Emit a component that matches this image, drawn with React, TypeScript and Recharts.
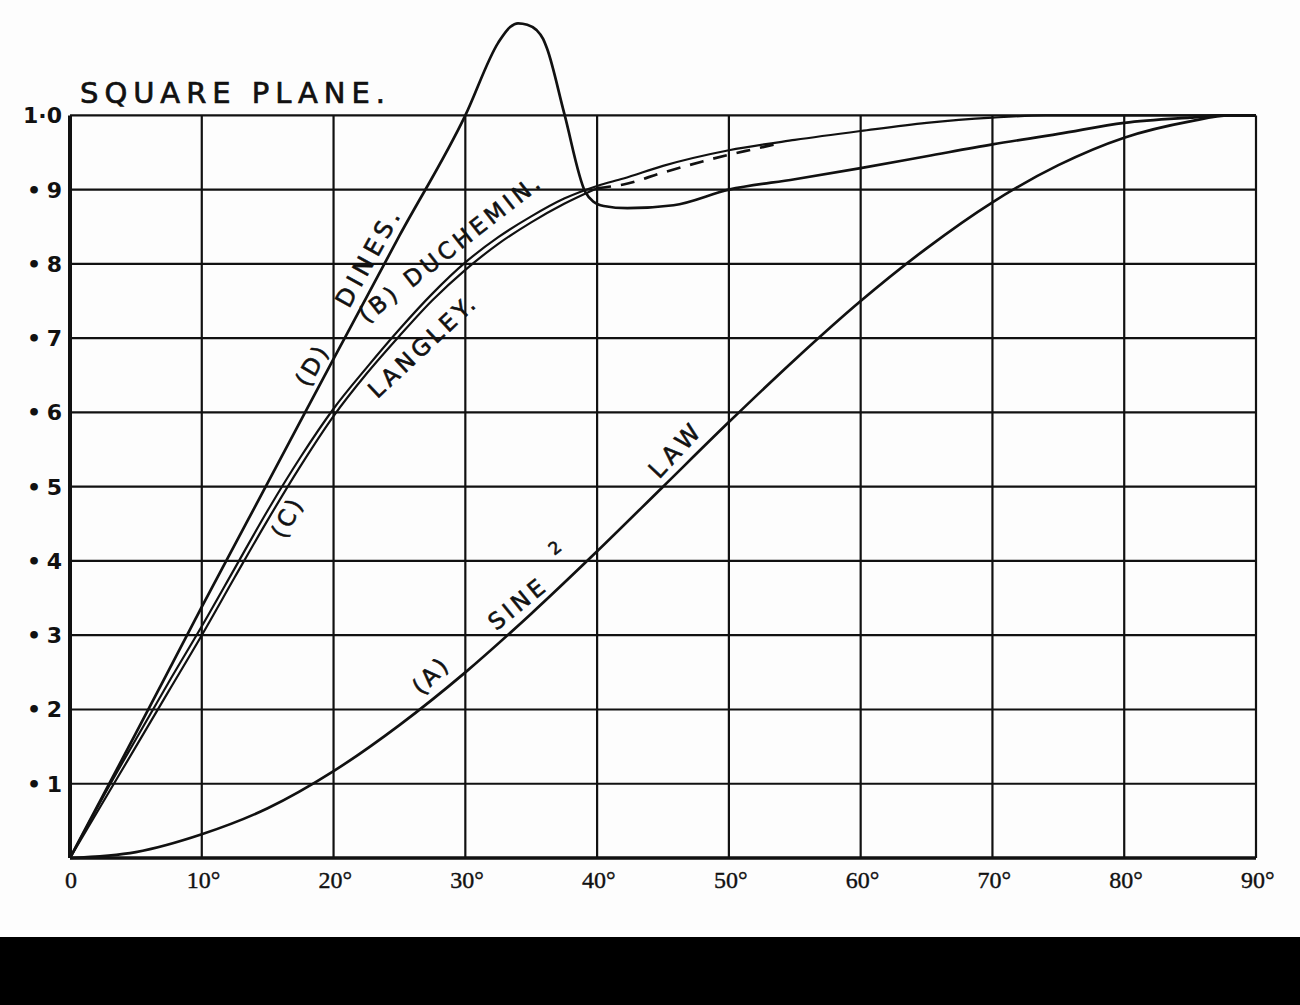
import React from "react";
import {
  LineChart,
  Line,
  XAxis,
  YAxis,
  ReferenceLine,
  ReferenceDot,
} from "recharts";

// angle of incidence (degrees) and normal pressure ratio
const DEGREE_TICKS = [0, 10, 20, 30, 40, 50, 60, 70, 80, 90];
const PRESSURE_TICKS = [0.1, 0.2, 0.3, 0.4, 0.5, 0.6, 0.7, 0.8, 0.9, 1.0];

// (A) sine² law
const sineSquared = [
  { x: 0, y: 0 },
  { x: 5, y: 0.008 },
  { x: 10, y: 0.032 },
  { x: 15, y: 0.067 },
  { x: 20, y: 0.117 },
  { x: 25, y: 0.179 },
  { x: 30, y: 0.25 },
  { x: 35, y: 0.329 },
  { x: 40, y: 0.413 },
  { x: 45, y: 0.5 },
  { x: 50, y: 0.587 },
  { x: 55, y: 0.671 },
  { x: 60, y: 0.75 },
  { x: 65, y: 0.821 },
  { x: 70, y: 0.883 },
  { x: 75, y: 0.933 },
  { x: 80, y: 0.97 },
  { x: 85, y: 0.992 },
  { x: 88, y: 1.0 },
  { x: 90, y: 1.0 },
];

// (B) Duchemin
const duchemin = [
  { x: 0, y: 0 },
  { x: 2.5, y: 0.082 },
  { x: 5, y: 0.16 },
  { x: 7.5, y: 0.237 },
  { x: 10, y: 0.312 },
  { x: 12.5, y: 0.39 },
  { x: 15, y: 0.468 },
  { x: 17.5, y: 0.54 },
  { x: 20, y: 0.605 },
  { x: 22.5, y: 0.66 },
  { x: 25, y: 0.712 },
  { x: 27.5, y: 0.76 },
  { x: 30, y: 0.802 },
  { x: 32.5, y: 0.836 },
  { x: 35, y: 0.864 },
  { x: 37.5, y: 0.888 },
  { x: 40, y: 0.905 },
  { x: 42, y: 0.915 },
  { x: 45, y: 0.932 },
  { x: 50, y: 0.953 },
  { x: 55, y: 0.967 },
  { x: 60, y: 0.979 },
  { x: 65, y: 0.99 },
  { x: 70, y: 0.997 },
  { x: 74, y: 1.0 },
  { x: 90, y: 1.0 },
];

// (C) Langley
const langley = [
  { x: 0, y: 0 },
  { x: 2.5, y: 0.075 },
  { x: 5, y: 0.15 },
  { x: 7.5, y: 0.225 },
  { x: 10, y: 0.3 },
  { x: 12.5, y: 0.378 },
  { x: 15, y: 0.455 },
  { x: 17.5, y: 0.528 },
  { x: 20, y: 0.595 },
  { x: 22.5, y: 0.652 },
  { x: 25, y: 0.703 },
  { x: 27.5, y: 0.751 },
  { x: 30, y: 0.792 },
  { x: 32.5, y: 0.827 },
  { x: 35, y: 0.856 },
  { x: 37.5, y: 0.881 },
  { x: 40, y: 0.902 },
];

// dashed continuation
const langleyDashed = [
  { x: 40, y: 0.902 },
  { x: 42, y: 0.907 },
  { x: 45, y: 0.923 },
  { x: 48, y: 0.938 },
  { x: 50, y: 0.947 },
  { x: 52, y: 0.955 },
  { x: 53.7, y: 0.962 },
];

// (D) Dines
const dines = [
  { x: 0, y: 0 },
  { x: 5, y: 0.168 },
  { x: 10, y: 0.338 },
  { x: 15, y: 0.505 },
  { x: 20, y: 0.672 },
  { x: 25, y: 0.838 },
  { x: 30, y: 1.0 },
  { x: 32.5, y: 1.098 },
  { x: 33.4, y: 1.119 },
  { x: 34.0, y: 1.124 },
  { x: 34.7, y: 1.122 },
  { x: 35.4, y: 1.115 },
  { x: 35.9, y: 1.103 },
  { x: 36.2, y: 1.09 },
  { x: 37.5, y: 1.003 },
  { x: 39.1, y: 0.897 },
  { x: 39.7, y: 0.884 },
  { x: 40.5, y: 0.878 },
  { x: 42.3, y: 0.875 },
  { x: 45.8, y: 0.879 },
  { x: 50, y: 0.9 },
  { x: 55, y: 0.914 },
  { x: 60, y: 0.929 },
  { x: 65, y: 0.945 },
  { x: 70, y: 0.961 },
  { x: 75, y: 0.975 },
  { x: 80, y: 0.99 },
  { x: 85, y: 0.997 },
  { x: 88, y: 1.0 },
  { x: 90, y: 1.0 },
];

// hand lettering along the curves
const CURVE_LABELS = [
  { text: "DINES.", x: 22.7, y: 0.81, rot: -61, fs: 24, ls: 5 },
  { text: "(D)", x: 18.4, y: 0.664, rot: -60, fs: 23, ls: 3 },
  { text: "(B) DUCHEMIN.", x: 28.9, y: 0.822, rot: -38, fs: 23, ls: 4 },
  { text: "LANGLEY.", x: 26.8, y: 0.69, rot: -43, fs: 23, ls: 4 },
  { text: "(C)", x: 16.5, y: 0.459, rot: -62, fs: 23, ls: 3 },
  { text: "(A)", x: 27.4, y: 0.246, rot: -45, fs: 23, ls: 3 },
  { text: "SINE", x: 34.0, y: 0.343, rot: -39, fs: 23, ls: 4 },
  { text: "2", x: 36.8, y: 0.418, rot: -38, fs: 17, ls: 0 },
  { text: "LAW", x: 46.0, y: 0.55, rot: -47, fs: 24, ls: 5 },
];

const INK = "#111";
const FONT = "'DejaVu Sans', sans-serif";

function DegreeTick({ x, y, payload }: any) {
  const v = payload.value;
  const common = {
    y: y + 22,
    fontSize: 24,
    fontFamily: "'Liberation Serif', serif",
    fill: INK,
    stroke: INK,
    strokeWidth: 0.4,
  };
  if (v === 0) {
    return (
      <text {...common} x={x + 1} textAnchor="middle">
        0
      </text>
    );
  }
  return (
    <text {...common} x={x - 15} textAnchor="start">
      {v}°
    </text>
  );
}

function PressureTick({ x, y, payload }: any) {
  const v = payload.value;
  const style = { fontSize: 22, fontFamily: FONT, fontWeight: 700, fill: INK };
  if (v >= 1) {
    return (
      <text {...style} x={x} y={y + 8} textAnchor="end">
        1·0
      </text>
    );
  }
  return (
    <g>
      <text {...style} x={x - 28} y={y + 8} textAnchor="middle">
        •
      </text>
      <text {...style} x={x} y={y + 8} textAnchor="end">
        {Math.round(v * 10)}
      </text>
    </g>
  );
}

function CurveLabel({ viewBox, text, rot, fs, ls }: any) {
  if (!viewBox) return null;
  const cx = viewBox.x + viewBox.width / 2;
  const cy = viewBox.y + viewBox.height / 2;
  return (
    <text
      x={cx}
      y={cy}
      transform={`rotate(${rot}, ${cx}, ${cy})`}
      textAnchor="middle"
      dominantBaseline="central"
      fontSize={fs}
      fontFamily={FONT}
      letterSpacing={ls}
      fill={INK}
      stroke={INK}
      strokeWidth={0.6}
    >
      {text}
    </text>
  );
}

export default function App() {
  const lineProps = {
    type: "monotone" as const,
    dataKey: "y",
    stroke: INK,
    strokeWidth: 2.7,
    dot: false,
    activeDot: false,
    isAnimationActive: false,
  };

  return (
    <div
      style={{
        position: "absolute",
        left: 0,
        top: 0,
        width: 1300,
        height: 1005,
        background: "#fdfdfd",
      }}
    >
      <svg
        width={420}
        height={110}
        style={{ position: "absolute", left: 0, top: 0 }}
      >
        <text
          x={80}
          y={103}
          fontSize={29}
          fontFamily={FONT}
          textLength={305}
          lengthAdjust="spacing"
          fill={INK}
          stroke={INK}
          strokeWidth={0.7}
        >
          SQUARE PLANE.
        </text>
      </svg>

      <LineChart
        width={1300}
        height={937}
        margin={{ top: 4, right: 44, bottom: 0, left: 0 }}
        style={{ position: "absolute", left: 0, top: 0 }}
      >
        <XAxis
          type="number"
          dataKey="x"
          domain={[0, 90]}
          ticks={DEGREE_TICKS}
          tick={<DegreeTick />}
          tickLine={false}
          axisLine={{ stroke: INK, strokeWidth: 3.5 }}
          height={79}
          interval={0}
        />
        <YAxis
          type="number"
          domain={[0, 1.15]}
          ticks={PRESSURE_TICKS}
          tick={<PressureTick />}
          tickLine={false}
          axisLine={false}
          width={70}
          interval={0}
        />

        {PRESSURE_TICKS.map((p) => (
          <ReferenceLine
            key={`h${p}`}
            segment={[
              { x: 0, y: p },
              { x: 90, y: p },
            ]}
            stroke={INK}
            strokeWidth={2.2}
          />
        ))}
        {DEGREE_TICKS.map((d) => (
          <ReferenceLine
            key={`v${d}`}
            segment={[
              { x: d, y: 0 },
              { x: d, y: 1.0 },
            ]}
            stroke={INK}
            strokeWidth={d === 0 ? 4 : 2.2}
          />
        ))}

        <Line {...lineProps} data={sineSquared} name="Sine² law" />
        <Line {...lineProps} data={dines} name="Dines" />
        <Line {...lineProps} data={duchemin} name="Duchemin" strokeWidth={2.2} />
        <Line {...lineProps} data={langley} name="Langley" strokeWidth={2.2} />
        <Line
          {...lineProps}
          data={langleyDashed}
          name="Langley (dashed)"
          strokeDasharray="14 10"
        />

        {CURVE_LABELS.map((l) => (
          <ReferenceDot
            key={l.text}
            x={l.x}
            y={l.y}
            r={0}
            fill="none"
            stroke="none"
            label={
              <CurveLabel text={l.text} rot={l.rot} fs={l.fs} ls={l.ls} />
            }
          />
        ))}
      </LineChart>

      <div
        style={{
          position: "absolute",
          left: 0,
          top: 937,
          width: 1300,
          height: 68,
          background: "#000",
        }}
      />
    </div>
  );
}
